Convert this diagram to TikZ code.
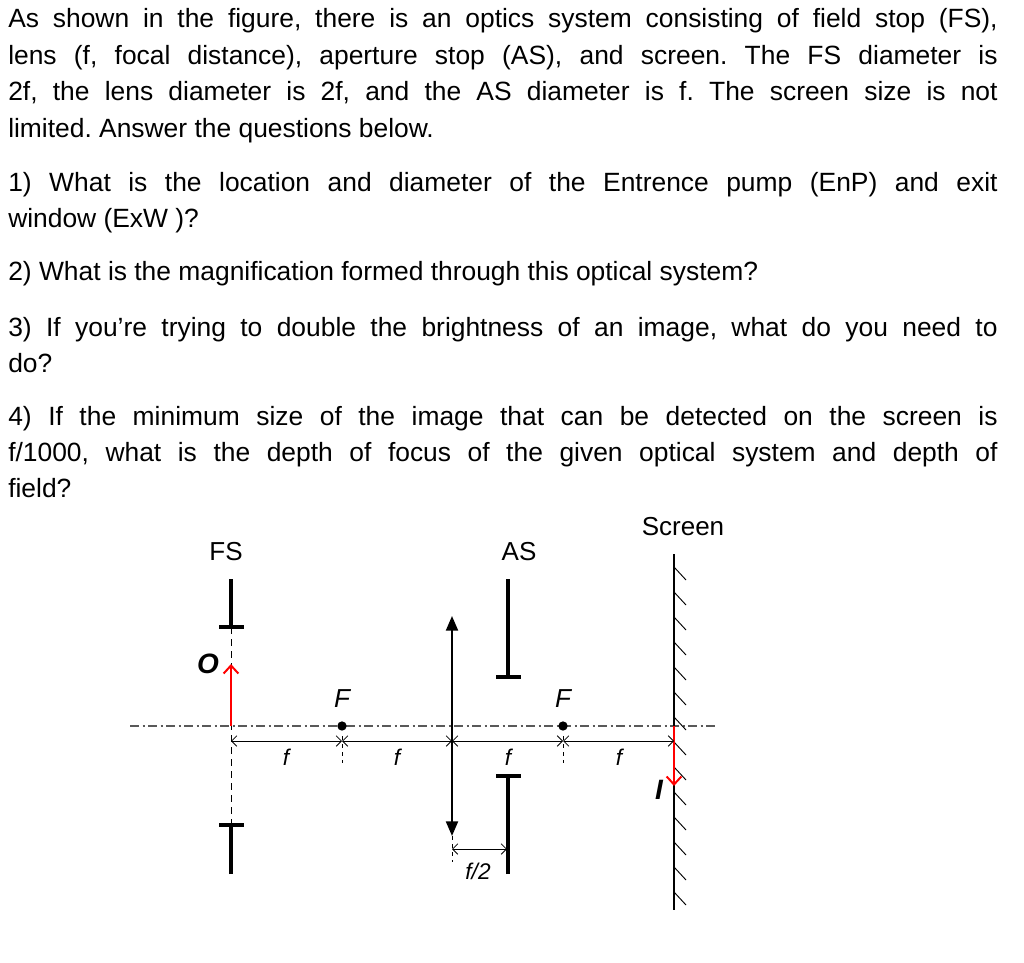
\documentclass[tikz,border=0pt]{standalone}
\usepackage{fontspec}
\setmainfont{Liberation Sans}
\usetikzlibrary{arrows.meta}
\begin{document}
\begin{tikzpicture}[x=0.75pt,y=-0.75pt,
  para/.style={anchor=base west,inner sep=0pt,font=\fontsize{19.8}{27.3}\selectfont\frenchspacing},
  stopl/.style={line width=2.8pt},
  axisl/.style={gray!70!black,line width=0.8pt,dash pattern=on 7pt off 2.5pt on 1.5pt off 2.5pt},
  dim/.style={line width=0.6pt,{Straight Barb[length=4pt]}-{Straight Barb[length=4pt]}},
  tick/.style={line width=0.6pt,dashed},
  lbl/.style={font=\fontsize{19.5}{19.5}\selectfont,inner sep=0pt},
  flbl/.style={font=\fontsize{17}{17}\selectfont\itshape,inner sep=0pt}]
\useasboundingbox (0,0) rectangle (1024,963);
\node[para] (p0) at (8,28) {\parbox[t]{742pt}{As shown in the figure, there is an optics system consisting of field stop (FS),\linebreak lens (f, focal distance), aperture stop (AS), and screen. The FS diameter is\linebreak 2f, the lens diameter is 2f, and the AS diameter is f. The screen size is not\linebreak limited. Answer the questions below.}};
\node[para] (p1) at (8,191) {\parbox[t]{742pt}{1) What is the location and diameter of the Entrence pump (EnP) and exit\linebreak window (ExW )?}};
\node[para] (p2) at (8,280) {2) What is the magnification formed through this optical system?};
\node[para] (p3) at (8,336) {\parbox[t]{742pt}{3) If you're trying to double the brightness of an image, what do you need to\linebreak do?}};
\node[para] (p4) at (8,425) {\parbox[t]{742pt}{4) If the minimum size of the image that can be detected on the screen is\linebreak f/1000, what is the depth of focus of the given optical system and depth of\linebreak field?}};
% axis
\coordinate (axL) at (130,726); \coordinate (axR) at (716,726);
\draw[axisl] (axL) -- (axR);
% FS
\coordinate (fsT) at (231,579); \coordinate (fsTc) at (231,627);
\coordinate (fsBc) at (231,825); \coordinate (fsB) at (231,874);
\draw[stopl] (fsT) -- (fsTc) (219,627) -- (244,627);
\draw[stopl] (fsB) -- (fsBc) (219,825) -- (244,825);
\draw[line width=0.7pt,dash pattern=on 5pt off 4pt] (fsTc) -- (fsBc);
\node[lbl] (fs) at (226,552) {FS};
% object
\coordinate (o0) at (231,726); \coordinate (o1) at (231,664);
\draw[red,line width=1.5pt,-{Straight Barb[length=6pt,width=11pt]}] (o0) -- (o1);
\node[font=\fontsize{21}{21}\selectfont\bfseries\itshape,inner sep=0pt] (O) at (208,664) {O};
% focal points
\node[circle,fill=black,inner sep=0pt,minimum size=7pt] (F1) at (342,726) {};
\node[circle,fill=black,inner sep=0pt,minimum size=7pt] (F2) at (563,726) {};
\node[flbl,font=\fontsize{19.5}{19.5}\selectfont\itshape] (F1l) at (342,699) {F};
\node[flbl,font=\fontsize{19.5}{19.5}\selectfont\itshape] (F2l) at (563,699) {F};
% lens
\coordinate (lT) at (452,616); \coordinate (lB) at (452,836);
\draw[line width=1.6pt,{Triangle[length=11pt,width=9pt]}-{Triangle[length=11pt,width=9pt]}] (lB) -- (lT);
% AS
\draw[stopl] (508,579) -- (508,677) (496,677) -- (521,677);
\draw[stopl] (508,874) -- (508,776) (496,776) -- (521,776);
\node[lbl] (as) at (519,552) {AS};
% screen
\coordinate (sT) at (674,554); \coordinate (sB) at (674,910);
\draw[line width=1.2pt] (sT) -- (sB);
\foreach \y in {567,592,...,892} \draw[line width=0.7pt] (674,\y) -- (686,\y+13);
\node[lbl] (scr) at (683,527) {Screen};
% image
\coordinate (i0) at (674,726); \coordinate (i1) at (674,786);
\draw[red,line width=1.5pt,-{Straight Barb[length=6pt,width=11pt]}] (i0) -- (i1);
\node[font=\fontsize{21}{21}\selectfont\bfseries\itshape,inner sep=0pt] (I) at (659,790) {I};
% dimensions
\coordinate (d0) at (231,741); \coordinate (d1) at (342,741); \coordinate (d2) at (452,741);
\coordinate (d3) at (563,741); \coordinate (d4) at (674,741);
\draw[dim] (d0) -- (d1); \draw[dim] (d1) -- (d2); \draw[dim] (d2) -- (d3); \draw[dim] (d3) -- (d4);
\draw[tick] (342,736) -- (342,763); \draw[tick] (563,736) -- (563,763);
\node[flbl] (f1) at (286,757) {f}; \node[flbl] (f2) at (397,757) {f};
\node[flbl] (f3) at (508,757) {f}; \node[flbl] (f4) at (619,757) {f};
\coordinate (h0) at (452,849); \coordinate (h1) at (507,849);
\draw[tick] (452,836) -- (452,862);
\draw[dim] (h0) -- (h1);
\node[flbl] (fh) at (478,871) {f/2};
\end{tikzpicture}
\end{document}
